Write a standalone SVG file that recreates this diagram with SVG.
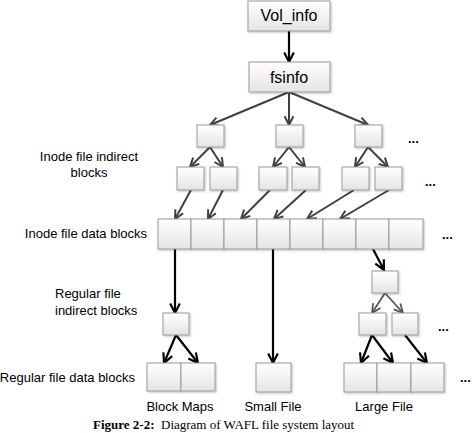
<svg xmlns="http://www.w3.org/2000/svg" width="474" height="433" viewBox="0 0 474 433">
<defs>
<linearGradient id="bg" x1="0" y1="0" x2="0" y2="1">
<stop offset="0" stop-color="#ffffff"/>
<stop offset="1" stop-color="#e4e4e4"/>
</linearGradient>
<filter id="sh" x="-20%" y="-20%" width="150%" height="150%">
<feDropShadow dx="1" dy="1" stdDeviation="0.8" flood-color="#000" flood-opacity="0.25"/>
</filter>
<marker id="ag" viewBox="0 0 10 10" refX="9" refY="5" markerWidth="11" markerHeight="11" markerUnits="userSpaceOnUse" orient="auto">
<path d="M1,1 L9,5 L1,9" fill="none" stroke="#404040" stroke-width="1.8"/>
</marker>
<marker id="ak" viewBox="0 0 10 10" refX="9" refY="5" markerWidth="12" markerHeight="12" markerUnits="userSpaceOnUse" orient="auto">
<path d="M1,1 L9,5 L1,9" fill="none" stroke="#000" stroke-width="1.8"/>
</marker>
<marker id="al" viewBox="0 0 10 10" refX="9" refY="5" markerWidth="11" markerHeight="11" markerUnits="userSpaceOnUse" orient="auto">
<path d="M1,1 L9,5 L1,9" fill="none" stroke="#555" stroke-width="1.6"/>
</marker>
</defs>
<style>
.b{fill:url(#bg);stroke:#9a9a9a;stroke-width:1;filter:url(#sh)}
.t{font-family:"Liberation Sans",Arial,sans-serif;font-size:13px;fill:#000}
.h{font-family:"Liberation Sans",Arial,sans-serif;font-size:16px;fill:#000;text-anchor:middle}
.d{font-family:"Liberation Sans",Arial,sans-serif;font-size:13px;font-weight:bold;fill:#000}
.g{fill:none;stroke:#404040;stroke-width:2;marker-end:url(#ag)}
.k{fill:none;stroke:#000;stroke-width:2.2;marker-end:url(#ak)}
.l{fill:none;stroke:#555;stroke-width:1.8;marker-end:url(#al)}
.c{font-family:"Liberation Serif","Times New Roman",serif;font-size:13px;fill:#000}
</style>
<rect width="474" height="433" fill="#fff"/>
<g id="connectors">
<line class="k" x1="289" y1="31" x2="289" y2="62"/>
<line class="g" x1="289" y1="92" x2="210" y2="125"/>
<line class="g" x1="289" y1="92" x2="289" y2="125"/>
<line class="g" x1="289" y1="92" x2="368" y2="125"/>
<line class="g" x1="210" y1="147" x2="190" y2="167"/>
<line class="g" x1="210" y1="147" x2="223" y2="167"/>
<line class="g" x1="289" y1="147" x2="273" y2="167"/>
<line class="g" x1="289" y1="147" x2="305" y2="167"/>
<line class="g" x1="368" y1="147" x2="355" y2="167"/>
<line class="g" x1="368" y1="147" x2="388" y2="167"/>
<line class="g" x1="191" y1="190" x2="175" y2="219"/>
<line class="g" x1="223" y1="190" x2="208" y2="219"/>
<line class="g" x1="270" y1="190" x2="241" y2="219"/>
<line class="g" x1="306" y1="190" x2="274" y2="219"/>
<line class="g" x1="354" y1="190" x2="307" y2="219"/>
<line class="g" x1="389" y1="190" x2="340" y2="219"/>
<line class="k" x1="175" y1="249" x2="175" y2="313"/>
<line class="k" x1="176" y1="335" x2="164" y2="363"/>
<line class="k" x1="176" y1="335" x2="198" y2="363"/>
<line class="k" x1="273" y1="249" x2="273" y2="363"/>
<line class="k" x1="373" y1="249" x2="384" y2="270"/>
<line class="l" x1="385" y1="293" x2="372" y2="313"/>
<line class="l" x1="385" y1="293" x2="403" y2="313"/>
<line class="k" x1="372" y1="335" x2="361" y2="363"/>
<line class="k" x1="372" y1="335" x2="393" y2="363"/>
<line class="k" x1="405" y1="335" x2="427" y2="363"/>
</g>
<g id="vol_info"><rect class="b" x="248" y="1" width="82" height="30"/><text class="h" x="289" y="21">Vol_info</text></g>
<g id="fsinfo"><rect class="b" x="249" y="62" width="81" height="30"/><text class="h" x="289" y="83">fsinfo</text></g>
<g id="inode_indirect_1">
<rect class="b" x="197" y="125" width="27" height="22"/>
<rect class="b" x="276" y="125" width="27" height="22"/>
<rect class="b" x="355" y="125" width="27" height="22"/>
<text class="d" x="408" y="143">...</text>
</g>
<g id="inode_indirect_2">
<rect class="b" x="177" y="167" width="27" height="23"/>
<rect class="b" x="210" y="167" width="27" height="23"/>
<rect class="b" x="259" y="167" width="28" height="23"/>
<rect class="b" x="292" y="167" width="27" height="23"/>
<rect class="b" x="342" y="167" width="27" height="23"/>
<rect class="b" x="375" y="167" width="27" height="23"/>
<text class="d" x="425" y="186">...</text>
</g>
<g id="inode_data">
<rect class="b" x="158" y="219" width="33" height="30"/>
<rect class="b" x="191" y="219" width="33" height="30"/>
<rect class="b" x="224" y="219" width="33" height="30"/>
<rect class="b" x="257" y="219" width="33" height="30"/>
<rect class="b" x="290" y="219" width="33" height="30"/>
<rect class="b" x="323" y="219" width="33" height="30"/>
<rect class="b" x="356" y="219" width="33" height="30"/>
<rect class="b" x="389" y="219" width="34" height="30"/>
<text class="d" x="442" y="239">...</text>
</g>
<g id="block_maps">
<rect class="b" x="163" y="313" width="26" height="22"/>
<rect class="b" x="147" y="363" width="34" height="28"/>
<rect class="b" x="181" y="363" width="34" height="28"/>
</g>
<g id="small_file">
<rect class="b" x="256" y="363" width="35" height="29"/>
</g>
<g id="large_file">
<rect class="b" x="372" y="271" width="26" height="22"/>
<rect class="b" x="359" y="313" width="27" height="22"/>
<rect class="b" x="392" y="313" width="26" height="22"/>
<rect class="b" x="344" y="363" width="33" height="29"/>
<rect class="b" x="377" y="363" width="34" height="29"/>
<rect class="b" x="411" y="363" width="33" height="29"/>
<text class="d" x="438" y="331">...</text>
<text class="d" x="460" y="382">...</text>
</g>
<g id="labels">
<text class="t" x="89" y="161" text-anchor="middle">Inode file indirect</text>
<text class="t" x="89" y="177" text-anchor="middle">blocks</text>
<text class="t" x="147" y="238" text-anchor="end">Inode file data blocks</text>
<text class="t" x="55" y="298">Regular file</text>
<text class="t" x="55" y="315">indirect blocks</text>
<text class="t" x="135" y="382" text-anchor="end">Regular file data blocks</text>
<text class="t" x="180" y="411" text-anchor="middle">Block Maps</text>
<text class="t" x="273" y="411" text-anchor="middle">Small File</text>
<text class="t" x="384" y="411" text-anchor="middle">Large File</text>
<text class="c" x="93" y="429" xml:space="preserve"><tspan font-weight="bold">Figure 2-2:</tspan>  Diagram of WAFL file system layout</text>
</g>
</svg>
